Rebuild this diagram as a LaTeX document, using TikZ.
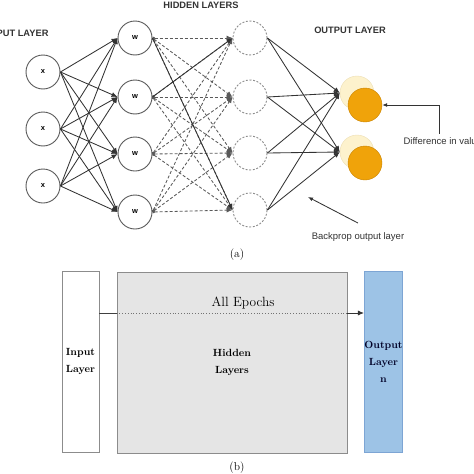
\documentclass[tikz,border=0pt]{standalone}
\usepackage{fontspec}
\newfontfamily\drawsf{Liberation Sans}
\usetikzlibrary{arrows.meta}
\definecolor{orangefill}{RGB}{240,163,10}
\definecolor{orangerim}{RGB}{200,130,0}
\definecolor{creamfill}{RGB}{253,242,205}
\definecolor{creamrim}{RGB}{236,222,180}
\definecolor{outblue}{RGB}{157,195,230}
\definecolor{bluerim}{RGB}{125,165,212}
\tikzset{
  neuron/.style={circle,draw=black!65,line width=0.9pt,minimum size=34pt,inner sep=0pt,
                 font=\drawsf\bfseries\fontsize{7.5}{8}\selectfont},
  ghost/.style={circle,draw=black!45,dash pattern=on 2pt off 1.6pt,line width=0.9pt,minimum size=34pt,inner sep=0pt},
  backcirc/.style={circle,fill=creamfill,draw=creamrim,minimum size=34pt,inner sep=0pt},
  frontcirc/.style={circle,fill=orangefill,draw=orangerim,minimum size=34pt,inner sep=0pt},
  link/.style={-{Latex[length=6pt,width=5pt]},draw=black!80,line width=0.85pt},
  dlink/.style={link,dash pattern=on 3pt off 2pt,draw=black!65},
  tag/.style={font=\drawsf\fontsize{9.5}{11}\selectfont,text=black!80},
  headtag/.style={font=\drawsf\bfseries\fontsize{9.3}{11}\selectfont,text=black!80},
  layerbox/.style={rectangle,draw=black!45,line width=0.8pt,inner sep=0pt,align=center,
                   font=\fontsize{10.4}{12}\selectfont\bfseries}
}
\begin{document}
\begin{tikzpicture}[x=1pt,y=-1pt]
\useasboundingbox (0,0) rectangle (474,474);
% (a)
\node[headtag,anchor=east] (inhead) at (52,33) {INPUT LAYER};
\node[headtag] (hidhead) at (201,5) {HIDDEN LAYERS};
\node[headtag] (outhead) at (350,30) {OUTPUT LAYER};
\foreach \i/\y in {1/72,2/129,3/186}
  \node[neuron] (x\i) at (43,\y) {x};
\foreach \i/\y in {1/38,2/97,3/154,4/212}
  \node[neuron] (w\i) at (135,\y) {w};
\foreach \i/\y in {1/38,2/97,3/153,4/210}
  \node[ghost] (h\i) at (250,\y) {};
\node[backcirc] (o1b) at (357,93) {};
\node[frontcirc] (o1) at (365,105) {};
\node[backcirc] (o2b) at (357,152) {};
\node[frontcirc] (o2) at (365,163) {};
\foreach \i in {1,2,3}
  \foreach \j in {1,2,3,4}
    \draw[link] (x\i.east) -- (w\j.west);
\foreach \i in {1,2,3,4}
  \foreach \j in {1,2,3,4}
    \draw[dlink,{Circle[length=2.5pt]}-{Latex[length=6pt,width=5pt]}] (w\i.east) -- (h\j.west);
\draw[link] (w2.east) -- (h1.west);
\draw[link] (w1.east) -- (h4.west);
\foreach \i in {1,2,3,4}
  \foreach \j in {1,2}
    \draw[link] (h\i.east) -- (o\j b.west);
\node[tag,anchor=west] (diff) at (400,141) {Difference in value};
\coordinate (dturn) at (439,105);
\draw[link,-{Latex[length=5pt,width=4pt]}] (dturn |- diff.north) -- (dturn) -- (o1.east);
\node[tag] (bp) at (358,237) {Backprop output layer};
\coordinate (bptip) at (308,197);
\draw[link,-{Latex[length=5pt,width=4pt]}] (bp.north) ++(0,-6) -- (bptip);
\node[font=\fontsize{11.5}{13}\selectfont] (capa) at (237,255) {(a)};
% (b)
\node[layerbox,fill=white,minimum width=37pt,minimum height=181pt] (inbox) at (80.5,361.5) {Input\\[5pt]Layer};
\node[layerbox,fill=black!10,minimum width=230pt,minimum height=181pt] (hidbox) at (232,362.5) {Hidden\\[5pt]Layers};
\node[layerbox,fill=outblue,draw=bluerim,minimum width=37pt,minimum height=181pt,text=black!85!blue] (outbox) at (383.5,361.5) {Output\\[5pt]Layer\\[5pt]n};
\coordinate (epoch) at (0,313);
\draw[black!75,line width=0.7pt] (inbox.east |- epoch) -- (hidbox.west |- epoch);
\draw[black!55,dotted,line width=0.8pt] (hidbox.west |- epoch) -- (hidbox.east |- epoch);
\draw[link] (hidbox.east |- epoch) -- (outbox.west |- epoch);
\node[font=\fontsize{13.4}{16}\selectfont] (epochs) at (243,303) {All Epochs};
\node[font=\fontsize{11.5}{13}\selectfont] (capb) at (237,468) {(b)};
\end{tikzpicture}
\end{document}
